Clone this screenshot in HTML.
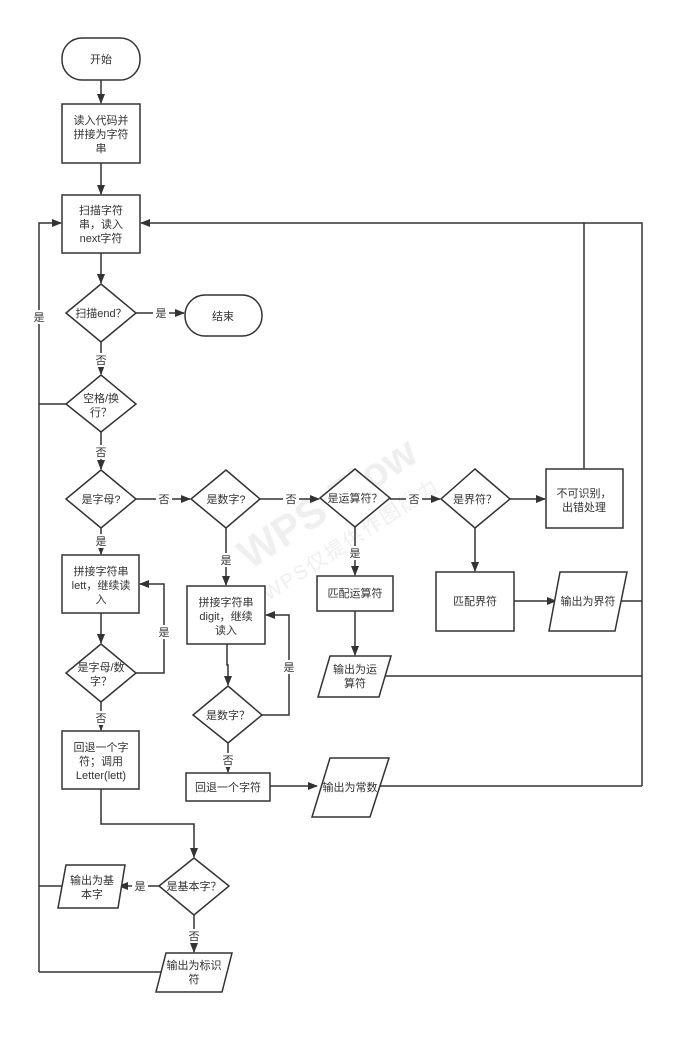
<!DOCTYPE html>
<html><head><meta charset="utf-8"><style>
html,body{margin:0;padding:0;background:#fff;}
svg{display:block;}
text{font-family:"Liberation Sans","Noto Sans CJK SC",sans-serif;font-size:11px;fill:#333;}
.s{fill:none;stroke:#333;stroke-width:1.5;}
.f{fill:#fff;stroke:#333;stroke-width:1.5;}
</style></head><body>
<svg width="692" height="1041" viewBox="0 0 692 1041" xmlns="http://www.w3.org/2000/svg">
<defs><marker id="a" markerWidth="10" markerHeight="8" refX="9" refY="4" orient="auto" markerUnits="userSpaceOnUse"><path d="M0,0 L10,4 L0,8 z" fill="#333"/></marker></defs>
<g transform="translate(335,515) rotate(-33)">
<text x="0" y="0" text-anchor="middle" style="font-size:42px;font-weight:bold;fill:#efefef;">WPS Flow</text>
<text x="0" y="36" text-anchor="middle" style="font-size:20px;fill:#efefef;letter-spacing:2px;">WPS仅提供作图能力</text>
</g>
<g class="s">
<line x1="101" y1="80" x2="101" y2="103" marker-end="url(#a)"/>
<line x1="101" y1="163" x2="101" y2="194" marker-end="url(#a)"/>
<line x1="101" y1="253" x2="101" y2="283" marker-end="url(#a)"/>
<line x1="136" y1="313" x2="184" y2="313" marker-end="url(#a)"/>
<line x1="101" y1="342" x2="101" y2="374" marker-end="url(#a)"/>
<line x1="101" y1="432" x2="101" y2="469" marker-end="url(#a)"/>
<line x1="136" y1="499" x2="190" y2="499" marker-end="url(#a)"/>
<line x1="260" y1="499" x2="319" y2="499" marker-end="url(#a)"/>
<line x1="390" y1="499" x2="440" y2="499" marker-end="url(#a)"/>
<line x1="510" y1="499" x2="545" y2="499" marker-end="url(#a)"/>
<polyline points="66,404 39,404"/>
<polyline points="39,972 39,223 61,223" marker-end="url(#a)"/>
<polyline points="584,469 584,223"/>
<polyline points="642,786 642,223 141,223" marker-end="url(#a)"/>
<line x1="355" y1="527" x2="355" y2="575" marker-end="url(#a)"/>
<line x1="355" y1="611" x2="355" y2="655" marker-end="url(#a)"/>
<line x1="384" y1="676" x2="642" y2="676"/>
<line x1="475" y1="528" x2="475" y2="571" marker-end="url(#a)"/>
<line x1="514" y1="601" x2="556" y2="601" marker-end="url(#a)"/>
<line x1="620" y1="601" x2="642" y2="601"/>
<line x1="380" y1="786" x2="642" y2="786"/>
<line x1="101" y1="528" x2="101" y2="554" marker-end="url(#a)"/>
<line x1="101" y1="613" x2="101" y2="643" marker-end="url(#a)"/>
<polyline points="136,673 164,673 164,584 140,584" marker-end="url(#a)"/>
<line x1="101" y1="702" x2="101" y2="730" marker-end="url(#a)"/>
<polyline points="101,789 101,824 194,824 194,857" marker-end="url(#a)"/>
<line x1="159" y1="886" x2="119" y2="886" marker-end="url(#a)"/>
<line x1="62" y1="886" x2="39" y2="886"/>
<line x1="194" y1="915" x2="194" y2="952" marker-end="url(#a)"/>
<line x1="161" y1="972" x2="39" y2="972"/>
<line x1="226" y1="528" x2="226" y2="585" marker-end="url(#a)"/>
<polyline points="227,644 227,665 228,665 228,685" marker-end="url(#a)"/>
<polyline points="262,715 289,715 289,615 266,615" marker-end="url(#a)"/>
<line x1="228" y1="743" x2="228" y2="772" marker-end="url(#a)"/>
<line x1="270" y1="786" x2="317" y2="786" marker-end="url(#a)"/>
</g>
<g text-anchor="middle">
<rect x="153" y="306" width="16" height="14" fill="#fff"/><text x="161" y="317">是</text>
<rect x="93" y="353" width="16" height="14" fill="#fff"/><text x="101" y="364">否</text>
<rect x="93" y="445" width="16" height="14" fill="#fff"/><text x="101" y="456">否</text>
<rect x="156" y="492" width="16" height="14" fill="#fff"/><text x="164" y="503">否</text>
<rect x="283" y="492" width="16" height="14" fill="#fff"/><text x="291" y="503">否</text>
<rect x="406" y="492" width="16" height="14" fill="#fff"/><text x="414" y="503">否</text>
<rect x="31" y="310" width="16" height="14" fill="#fff"/><text x="39" y="321">是</text>
<rect x="347" y="546" width="16" height="14" fill="#fff"/><text x="355" y="557">是</text>
<rect x="93" y="534" width="16" height="14" fill="#fff"/><text x="101" y="545">是</text>
<rect x="156" y="625" width="16" height="14" fill="#fff"/><text x="164" y="636">是</text>
<rect x="93" y="711" width="16" height="14" fill="#fff"/><text x="101" y="722">否</text>
<rect x="218" y="553" width="16" height="14" fill="#fff"/><text x="226" y="564">是</text>
<rect x="281" y="660" width="16" height="14" fill="#fff"/><text x="289" y="671">是</text>
<rect x="220" y="753" width="16" height="14" fill="#fff"/><text x="228" y="764">否</text>
<rect x="132" y="879" width="16" height="14" fill="#fff"/><text x="140" y="890">是</text>
<rect x="186" y="929" width="16" height="14" fill="#fff"/><text x="194" y="940">否</text>
</g>
<g class="f">
<rect x="62" y="38" width="78" height="42" rx="20"/>
<rect x="62" y="104" width="78" height="59"/>
<rect x="62" y="195" width="78" height="58"/>
<polygon points="101,284 136,313 101,342 66,313"/>
<rect x="185" y="295" width="77" height="41" rx="20"/>
<polygon points="101,375 136,404 101,432 66,404"/>
<polygon points="101,470 136,499 101,528 66,499"/>
<polygon points="226,470 260,499 226,528 191,499"/>
<polygon points="355,469 390,498 355,527 320,498"/>
<polygon points="475,469 510,499 475,528 441,499"/>
<rect x="546" y="469" width="77" height="59"/>
<rect x="317" y="576" width="76" height="35"/>
<polygon points="330,656 391,656 379,697 318,697"/>
<rect x="436" y="572" width="78" height="59"/>
<polygon points="560,572 627,572 615,631 549,631"/>
<polygon points="330,758 389,758 370,817 312,817"/>
<rect x="62" y="555" width="77" height="58"/>
<polygon points="101,644 136,673 101,702 66,673"/>
<rect x="62" y="731" width="77" height="58"/>
<polygon points="194,858 229,886 194,915 159,886"/>
<polygon points="66,865 125,865 118,908 58,908"/>
<polygon points="166,953 232,953 222,992 156,992"/>
<rect x="187" y="586" width="78" height="58"/>
<polygon points="228,686 262,715 228,743 193,715"/>
<rect x="186" y="773" width="84" height="28"/>
</g>
<g text-anchor="middle">
<text x="101" y="63">开始</text>
<text x="101" y="124">读入代码并</text><text x="101" y="138">拼接为字符</text><text x="101" y="152">串</text>
<text x="101" y="214">扫描字符</text><text x="101" y="228">串，读入</text><text x="101" y="242">next字符</text>
<text x="101" y="317">扫描end？</text>
<text x="223" y="320">结束</text>
<text x="101" y="402">空格/换</text><text x="101" y="416">行？</text>
<text x="101" y="503">是字母?</text>
<text x="226" y="503">是数字?</text>
<text x="355" y="502">是运算符？</text>
<text x="475" y="503">是界符？</text>
<text x="584" y="497">不可识别，</text><text x="584" y="511">出错处理</text>
<text x="355" y="597">匹配运算符</text>
<text x="355" y="673">输出为运</text><text x="355" y="687">算符</text>
<text x="475" y="605">匹配界符</text>
<text x="588" y="605">输出为界符</text>
<text x="350" y="791">输出为常数</text>
<text x="101" y="575">拼接字符串</text><text x="101" y="589">lett，继续读</text><text x="101" y="603">入</text>
<text x="101" y="671">是字母/数</text><text x="101" y="685">字？</text>
<text x="101" y="751">回退一个字</text><text x="101" y="765">符；调用</text><text x="101" y="779">Letter(lett)</text>
<text x="194" y="890">是基本字？</text>
<text x="92" y="884">输出为基</text><text x="92" y="898">本字</text>
<text x="194" y="969">输出为标识</text><text x="194" y="983">符</text>
<text x="226" y="606">拼接字符串</text><text x="226" y="620">digit，继续</text><text x="226" y="634">读入</text>
<text x="228" y="719">是数字？</text>
<text x="228" y="791">回退一个字符</text>
</g>
</svg>
</body></html>
